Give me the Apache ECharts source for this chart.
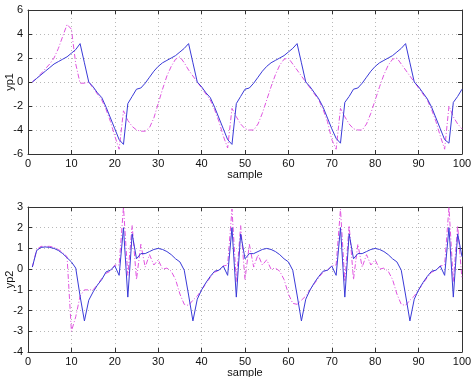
<!DOCTYPE html>
<html>
<head>
<meta charset="utf-8">
<script src="https://cdn.jsdelivr.net/npm/echarts@6/dist/echarts.min.js"></script>
<style>
  html, body { margin: 0; padding: 0; background: #fff; }
  #chart { width: 474px; height: 377px; }
</style>
</head>
<body>
<div id="chart"></div>
<script>
// x ticks and y ticks
const xTicks = [0, 10, 20, 30, 40, 50, 60, 70, 80, 90, 100]
const yp1Ticks = [-6, -4, -2, 0, 2, 4, 6]
const yp2Ticks = [-4, -3, -2, -1, 0, 1, 2, 3]

// yp1, samples 1..100
const yp1Solid = [
  0, 0.3, 0.6, 0.9, 1.2, 1.5, 1.7, 1.9, 2.1, 2.4, 2.7, 3.2, 1.6, 0.0, -0.4, -0.9, -1.3, -2.1, -3.0, -3.9, -4.8, -5.2, -1.8, -1.2, -0.6,
  -0.5, -0.1, 0.4, 0.9, 1.3, 1.6, 1.8, 2.0, 2.2, 2.5, 2.8, 3.2, 1.6, 0.0, -0.4, -0.9, -1.3, -2.1, -3.0, -3.9, -4.8, -5.2, -1.8, -1.2, -0.6,
  -0.5, -0.1, 0.4, 0.9, 1.3, 1.6, 1.8, 2.0, 2.2, 2.5, 2.8, 3.2, 1.6, 0.0, -0.4, -0.9, -1.4, -2.1, -3.0, -3.9, -4.7, -5.1, -1.7, -1.2, -0.6,
  -0.5, -0.1, 0.4, 0.9, 1.3, 1.6, 1.8, 2.0, 2.2, 2.5, 2.8, 3.2, 1.6, 0.0, -0.4, -0.9, -1.4, -2.1, -3.0, -3.9, -4.8, -5.1, -1.7, -1.2, -0.6
]
const yp1Dash = [
  0, 0.3, 0.7, 1.1, 1.5, 2.0, 2.8, 3.8, 4.8, 4.4, 1.5, -0.1, -0.1, 0.0, -0.5, -1.0, -1.5, -2.3, -3.3, -4.5, -5.6, -2.4, -3.2, -3.7, -4.0,
  -4.1, -4.1, -3.8, -3.0, -1.8, -0.6, 0.5, 1.3, 1.9, 2.1, 1.6, 1.0, 0.5, 0.0, -0.5, -1.0, -1.5, -2.3, -3.3, -4.5, -5.5, -2.2, -2.9, -3.5, -3.9,
  -4.0, -4.0, -3.5, -2.6, -1.5, -0.4, 0.6, 1.4, 1.9, 2.0, 1.5, 1.0, 0.5, 0.0, -0.5, -1.0, -1.5, -2.3, -3.3, -4.8, -5.6, -2.2, -2.9, -3.5, -3.9,
  -4.0, -4.0, -3.5, -2.6, -1.5, -0.4, 0.6, 1.4, 1.9, 2.0, 1.5, 1.0, 0.5, 0.0, -0.5, -1.0, -1.5, -2.3, -3.3, -4.5, -5.6, -2.0, -2.9, -3.5, -3.9
]

// yp2, samples 1..100
const yp2Solid = [
  0.1, 0.9, 1.05, 1.07, 1.05, 1.0, 0.9, 0.75, 0.55, 0.35, 0.05, -1.3, -2.5, -1.5, -1.1, -0.77, -0.5, -0.13, -0.05, 0.16, -0.3, 2.0, -1.35, 1.7, 0.5,
  0.75, 0.75, 0.85, 0.95, 1.0, 0.95, 0.85, 0.7, 0.5, 0.35, -0.05, -1.25, -2.5, -1.45, -1.0, -0.65, -0.35, -0.1, -0.05, 0.15, -0.3, 2.0, -1.35, 1.7, 0.5,
  0.75, 0.75, 0.85, 0.95, 1.0, 0.95, 0.85, 0.7, 0.5, 0.35, -0.05, -1.25, -2.5, -1.45, -1.0, -0.65, -0.35, -0.1, -0.05, 0.15, -0.3, 2.0, -1.35, 1.7, 0.5,
  0.75, 0.75, 0.85, 0.95, 1.0, 0.95, 0.85, 0.7, 0.5, 0.35, -0.05, -1.25, -2.5, -1.45, -1.0, -0.65, -0.35, -0.1, -0.05, 0.15, -0.3, 2.0, -1.35, 1.7, 0.6
]
const yp2Dash = [
  0.1, 0.95, 1.1, 1.1, 1.1, 1.05, 0.95, 0.8, 0.6, -3.0, -2.3, -1.3, -1.0, -1.0, -1.0, -0.75, -0.45, -0.2, -0.1, 0.2, 0.2, 3.0, -0.3, 2.1, -0.5,
  1.2, 0.1, 0.7, 0.2, 0.45, 0.0, 0.05, -0.1, -0.5, -1.2, -1.7, -1.75, -1.5, -1.3, -1.0, -0.7, -0.4, -0.15, -0.05, 0.15, 0.2, 2.9, -0.6, 2.1, -0.5,
  1.2, 0.1, 0.7, 0.2, 0.45, 0.0, 0.05, -0.1, -0.5, -1.2, -1.65, -1.7, -1.5, -1.3, -1.0, -0.7, -0.4, -0.15, -0.05, 0.15, 0.2, 2.9, -0.6, 2.1, -0.5,
  1.2, 0.1, 0.7, 0.2, 0.45, 0.0, 0.05, -0.1, -0.5, -1.2, -1.7, -1.75, -1.5, -1.3, -1.0, -0.7, -0.4, -0.15, -0.05, 0.15, 0.2, 3.0, -0.6, 2.1, -0.5
]

const toPairs = (arr) => arr.map((v, i) => [i + 1, v])

const FONT = 'Liberation Sans'
const axisColor = '#333333'
const labelStyle = { color: '#111111', fontSize: 11, fontFamily: FONT }

const makeX = (gridIndex, position, showLabel) => ({
  type: 'value',
  gridIndex: gridIndex,
  position: position,
  min: xTicks[0],
  max: xTicks[xTicks.length - 1],
  interval: 10,
  name: showLabel ? 'sample' : '',
  nameLocation: 'middle',
  nameGap: 15,
  nameMoveOverlap: false,
  nameTextStyle: labelStyle,
  axisLine: { show: true, onZero: false, lineStyle: { color: axisColor, width: 1 } },
  axisTick: { show: true, inside: true, length: 4, lineStyle: { color: axisColor } },
  axisLabel: { show: showLabel, margin: 4, ...labelStyle },
  splitLine: { show: showLabel, lineStyle: { color: '#b8b8b8', type: [1, 3], width: 1 } }
})

const makeY = (gridIndex, position, ticks, name, showLabel) => ({
  type: 'value',
  gridIndex: gridIndex,
  position: position,
  min: ticks[0],
  max: ticks[ticks.length - 1],
  interval: ticks[1] - ticks[0],
  name: showLabel ? name : '',
  nameLocation: 'middle',
  nameGap: 13,
  nameMoveOverlap: false,
  nameTextStyle: labelStyle,
  axisLine: { show: true, onZero: false, lineStyle: { color: axisColor, width: 1 } },
  axisTick: { show: true, inside: true, length: 4, lineStyle: { color: axisColor } },
  axisLabel: { show: showLabel, margin: 5, ...labelStyle },
  splitLine: { show: showLabel, lineStyle: { color: '#b8b8b8', type: [1, 3], width: 1 } }
})

const solidStyle = { color: '#3a3ad8', width: 1 }
const dashStyle = { color: '#e055e0', width: 1, type: [5, 2, 1, 2] }

const line = (data, xIdx, yIdx, style) => ({
  type: 'line',
  xAxisIndex: xIdx,
  yAxisIndex: yIdx,
  data: toPairs(data),
  showSymbol: false,
  symbol: 'none',
  lineStyle: style,
  clip: true,
  animation: false
})

const chart = echarts.init(document.getElementById('chart'), null, { renderer: 'canvas' })
chart.setOption({
  animation: false,
  backgroundColor: '#ffffff',
  grid: [
    { left: 28, right: 12, top: 10, height: 144, containLabel: false, outerBoundsMode: 'none' },
    { left: 28, right: 12, top: 207, height: 145, containLabel: false, outerBoundsMode: 'none' }
  ],
  xAxis: [
    makeX(0, 'bottom', true),
    makeX(0, 'top', false),
    makeX(1, 'bottom', true),
    makeX(1, 'top', false)
  ],
  yAxis: [
    makeY(0, 'left', yp1Ticks, 'yp1', true),
    makeY(0, 'right', yp1Ticks, 'yp1', false),
    makeY(1, 'left', yp2Ticks, 'yp2', true),
    makeY(1, 'right', yp2Ticks, 'yp2', false)
  ],
  series: [
    line(yp1Dash, 0, 0, dashStyle),
    line(yp1Solid, 0, 0, solidStyle),
    line(yp2Dash, 2, 2, dashStyle),
    line(yp2Solid, 2, 2, solidStyle)
  ]
})
</script>
</body>
</html>
